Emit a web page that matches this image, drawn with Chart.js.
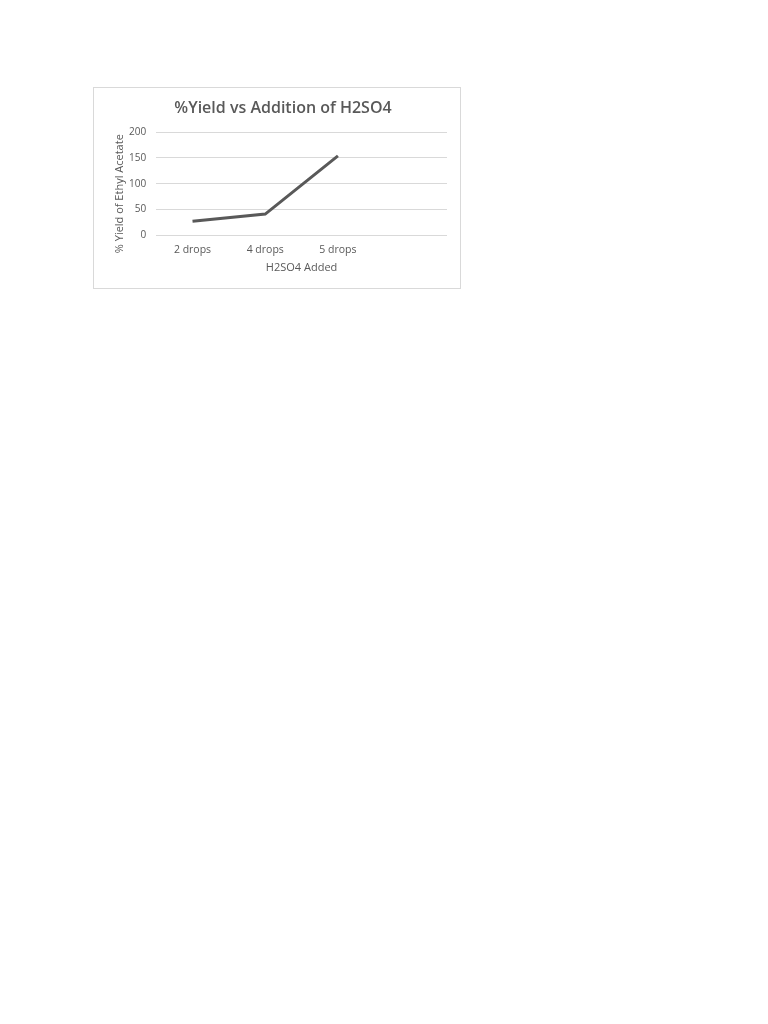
<!DOCTYPE html>
<html>
<head>
<meta charset="utf-8">
<script src="https://cdn.jsdelivr.net/npm/chart.js@4"></script>
<style>
  html, body { margin: 0; padding: 0; background: #ffffff; }
  #box { position: absolute; left: 93px; top: 87px; width: 366px; height: 200px; border: 1px solid #d9d9d9; background: #fff; }
  #box canvas { position: absolute; left: 0; top: 0; }
</style>
</head>
<body>
<div id="box"><canvas id="c" width="366" height="200"></canvas></div>
<script>
const categories = ["2 drops", "4 drops", "5 drops", ""];
const yieldValues = [27, 41, 154, null];
const yTicks = [0, 50, 100, 150, 200];
const yTitle = "% Yield of Ethyl Acetate";

const txt = "#595959";
const yTitlePlugin = {
  id: "yTitlePlugin",
  afterDraw(chart) {
    const ctx = chart.ctx;
    const area = chart.chartArea;
    ctx.save();
    ctx.fillStyle = txt;
    ctx.font = "11px 'Open Sans'";
    ctx.textAlign = "center";
    ctx.textBaseline = "middle";
    ctx.translate(26, (area.top + area.bottom) / 2 + 10);
    ctx.rotate(-Math.PI / 2);
    ctx.fillText(yTitle, 0, 0);
    ctx.restore();
  }
};
new Chart(document.getElementById("c"), {
  type: "line",
  data: {
    labels: categories,
    datasets: [{
      label: "% Yield",
      data: yieldValues,
      borderColor: "#595959",
      borderWidth: 3,
      pointRadius: 0,
      tension: 0,
      fill: false
    }]
  },
  options: {
    responsive: false,
    animation: false,
    devicePixelRatio: 1,
    layout: { padding: { left: 25, right: 13, top: 9, bottom: 14 } },
    plugins: {
      legend: { display: false },
      tooltip: { enabled: false },
      title: {
        display: true,
        text: "%Yield vs Addition of H2SO4",
        color: txt,
        font: { family: "Open Sans", size: 16, weight: "600" },
        padding: { top: 2, bottom: 14 }
      }
    },
    scales: {
      x: {
        offset: true,
        grid: { display: false, drawTicks: false },
        border: { display: false },
        ticks: { color: txt, font: { family: "Open Sans", size: 10.5 }, padding: 9, maxRotation: 0 },
        title: { display: true, text: "H2SO4 Added", color: txt, font: { family: "Open Sans", size: 11 }, padding: { top: -5, bottom: 0 } }
      },
      y: {
        min: 0, max: 200,
        afterBuildTicks: (s) => { s.ticks = yTicks.map(v => ({ value: v })); },
        grid: { color: "#d9d9d9", drawTicks: false, lineWidth: 1 },
        border: { display: false },
        ticks: { color: txt, font: { family: "Open Sans", size: 10 }, padding: 10 },
        title: { display: false }
      }
    }
  },
  plugins: [yTitlePlugin]
});
</script>
</body>
</html>
